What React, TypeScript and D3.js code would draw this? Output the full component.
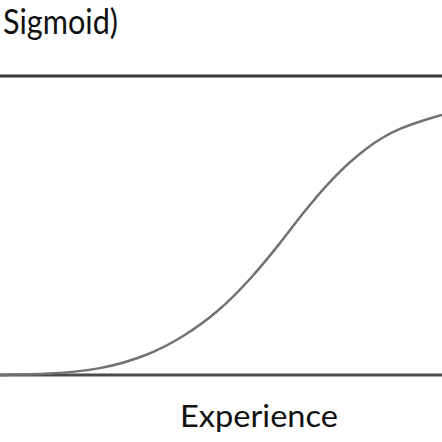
import * as React from 'react';
import * as d3 from 'd3';

// experience (x) vs performance (y)
const experience = [0, 1.13, 2.26, 3.39, 4.14, 4.91, 5.66, 6.4, 6.79, 7.53, 8.3, 9.0, 10];
const performance = [0, 0.003, 0.017, 0.067, 0.127, 0.207, 0.318, 0.452, 0.53, 0.662, 0.763, 0.826, 0.87];

const titleText = 'Sigmoid)';
const xLabel = 'Experience';

const W = 442;
const H = 442;

export default function App() {
  const x = d3.scaleLinear().domain([0, 10]).range([0, W]);
  const y = d3.scaleLinear().domain([0, 1]).range([375, 76]);

  const pts = experience.map((e, i) => [e, performance[i]] as [number, number]);
  const line = d3.line<[number, number]>()
    .x(d => x(d[0]))
    .y(d => y(d[1]))
    .curve(d3.curveBasis);

  const font = 'Lato, "Open Sans", sans-serif';

  return (
    <svg width={W} height={H} style={{ position: 'absolute', left: 0, top: 0, background: '#fff' }}>
      <rect width={W} height={H} fill="#fff" />
      <text x={3} y={34} fontFamily={font} fontSize={34} fill="#111"
            textLength={115} lengthAdjust="spacingAndGlyphs">{titleText}</text>
      {/* top frame line */}
      <line x1={0} x2={W} y1={y(1)} y2={y(1)} stroke="#3a3a3a" strokeWidth={3} />
      {/* x axis */}
      <line x1={0} x2={W} y1={y(0)} y2={y(0)} stroke="#4a4a4a" strokeWidth={3} />
      <path d={line(pts) as string} fill="none" stroke="#727272" strokeWidth={2.5} />
      <text x={180} y={427} fontFamily={font} fontSize={30} fill="#111"
            textLength={158} lengthAdjust="spacingAndGlyphs">{xLabel}</text>
    </svg>
  );
}
